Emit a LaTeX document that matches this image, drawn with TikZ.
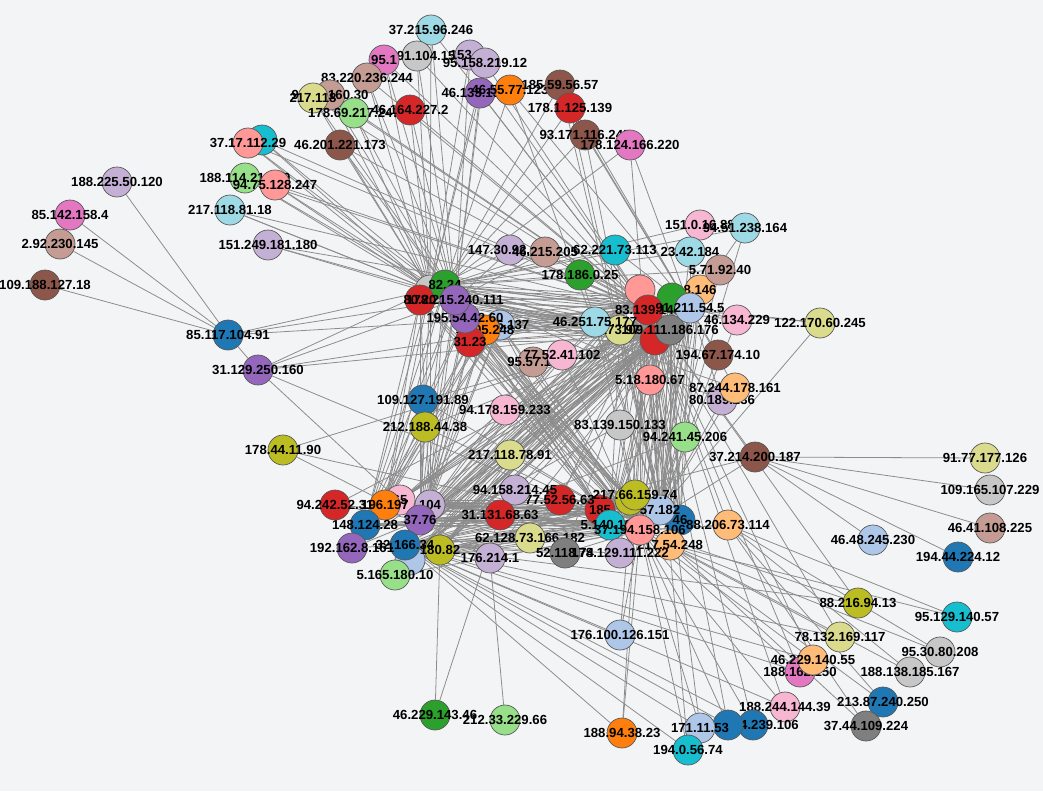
\documentclass[tikz,border=0pt]{standalone}
\usepackage{fontspec}
\setmainfont{Liberation Sans}
\definecolor{bgc}{HTML}{F3F4F6}
\definecolor{c1}{HTML}{1F77B4}\definecolor{c2}{HTML}{AEC7E8}
\definecolor{c3}{HTML}{FF7F0E}\definecolor{c4}{HTML}{FFBB78}
\definecolor{c5}{HTML}{2CA02C}\definecolor{c6}{HTML}{98DF8A}
\definecolor{c7}{HTML}{D62728}\definecolor{c8}{HTML}{FF9896}
\definecolor{c9}{HTML}{9467BD}\definecolor{c10}{HTML}{C5B0D5}
\definecolor{c11}{HTML}{8C564B}\definecolor{c12}{HTML}{C49C94}
\definecolor{c13}{HTML}{E377C2}\definecolor{c14}{HTML}{F7B6D2}
\definecolor{c15}{HTML}{7F7F7F}\definecolor{c16}{HTML}{C7C7C7}
\definecolor{c17}{HTML}{BCBD22}\definecolor{c18}{HTML}{DBDB8D}
\definecolor{c19}{HTML}{17BECF}\definecolor{c20}{HTML}{9EDAE5}
\pgfdeclarelayer{bg}\pgfsetlayers{bg,main}
\tikzset{nd/.style={circle,draw=gray!70!black,line width=0.4pt,minimum size=0.6cm,inner sep=0pt},
lbl/.style={font=\bfseries\fontsize{7.5}{8}\selectfont,text=black,inner sep=0pt},
ed/.style={draw=gray!90,line width=0.45pt}}
\newcommand\N[5]{\node[nd,fill=#4,label={[lbl]center:#5}] (#1) at (#2,#3) {};}
\begin{document}
\begin{tikzpicture}[x=0.02cm,y=-0.02cm]
\begin{pgfonlayer}{bg}
\fill[bgc] (0,0) rectangle (1043,791);
\end{pgfonlayer}
\useasboundingbox (0,0) rectangle (1043,791);
% hub clusters
\N{A5}{430}{290}{c16}{}
\N{A6}{420}{300}{c7}{80.20}
\N{A2}{445}{285}{c5}{82.24}
\N{A7}{500}{325}{c2}{46.76.137}
\N{A3}{485}{330}{c3}{5.205.248}
\N{A4}{470}{342}{c7}{31.23}
\N{A8}{465}{318}{c9}{195.54.42.60}
\N{A1}{455}{300}{c9}{178.215.240.111}
\N{B7}{640}{290}{c8}{}
\N{B6}{700}{290}{c4}{8.146}
\N{B2}{672}{298}{c5}{}
\N{B5}{620}{330}{c18}{173.97}
\N{B8}{655}{340}{c7}{}
\N{B4}{670}{330}{c15}{109.111.186.176}
\N{B1}{648}{310}{c7}{83.139.146}
\N{B3}{690}{308}{c2}{91.211.54.5}
\N{C8}{410}{560}{c2}{}
\N{C6}{400}{500}{c14}{65}
\N{C3}{385}{505}{c3}{196.197}
\N{C4}{440}{550}{c17}{180.82}
\N{C7}{430}{505}{c10}{104}
\N{C1}{420}{520}{c9}{37.76}
\N{C5}{365}{525}{c1}{148.124.28}
\N{C2}{405}{545}{c1}{32.166.34}
\N{D8}{680}{520}{c1}{46}
\N{D6}{600}{510}{c7}{185}
\N{D3}{630}{500}{c17}{}
\N{D5}{660}{510}{c2}{57.182}
\N{D4}{670}{545}{c4}{217.54.248}
\N{D2}{610}{525}{c19}{5.140.106}
\N{D1}{640}{530}{c8}{37.194.158.106}
% peripheral
\N{p1}{431}{30}{c20}{37.215.96.246}
\N{p2}{417}{56}{c16}{84.91.104.15}
\N{p3}{470}{55}{c10}{153.86}
\N{p4}{485}{63}{c10}{95.158.219.12}
\N{p5}{384}{60}{c13}{95.1}
\N{p6}{367}{78}{c12}{83.220.236.244}
\N{p7}{330}{95}{c12}{95.53.160.30}
\N{p8}{313}{98}{c18}{217.118}
\N{p9}{354}{113}{c6}{178.69.217.247}
\N{p10}{410}{110}{c7}{46.164.227.2}
\N{p11}{480}{93}{c9}{46.133.136.4}
\N{p12}{510}{90}{c3}{46.55.77.123}
\N{p13}{560}{85}{c11}{185.59.56.57}
\N{p14}{570}{108}{c7}{178.1.125.139}
\N{p15}{585}{135}{c11}{93.171.116.245}
\N{p16}{630}{145}{c13}{178.124.166.220}
\N{p17}{340}{145}{c11}{46.201.221.173}
\N{p18}{262}{140}{c19}{}
\N{p19}{248}{143}{c8}{37.17.112.29}
\N{p20}{245}{178}{c6}{188.114.21.220}
\N{p21}{275}{185}{c8}{94.75.128.247}
\N{p22}{230}{210}{c20}{217.118.81.18}
\N{p23}{117}{182}{c10}{188.225.50.120}
\N{p24}{70}{215}{c13}{85.142.158.4}
\N{p25}{60}{244}{c12}{2.92.230.145}
\N{p26}{45}{285}{c11}{109.188.127.18}
\N{p27}{268}{245}{c10}{151.249.181.180}
\N{p28}{228}{335}{c1}{85.117.104.91}
\N{p29}{258}{370}{c9}{31.129.250.160}
\N{p30}{423}{400}{c1}{109.127.191.89}
\N{p31}{425}{427}{c17}{212.188.44.38}
\N{p32}{283}{450}{c17}{178.44.11.90}
\N{p33}{510}{250}{c10}{147.30.92.100}
\N{p34}{545}{252}{c12}{46.215.205}
\N{p35}{580}{275}{c5}{178.186.0.25}
\N{p36}{615}{250}{c19}{62.221.73.113}
\N{p37}{700}{225}{c14}{151.0.16.88}
\N{p38}{745}{228}{c20}{94.51.238.164}
\N{p39}{690}{252}{c20}{23.42.184}
\N{p40}{720}{270}{c12}{5.71.92.40}
\N{p41}{737}{320}{c14}{46.134.229}
\N{p42}{820}{323}{c18}{122.170.60.245}
\N{p43}{718}{355}{c11}{194.67.174.10}
\N{p44}{650}{380}{c8}{5.18.180.67}
\N{p45}{722}{400}{c10}{80.189.236}
\N{p46}{735}{388}{c4}{87.244.178.161}
\N{p47}{755}{457}{c11}{37.214.200.187}
\N{p48}{985}{458}{c18}{91.77.177.126}
\N{p49}{990}{490}{c16}{109.165.107.229}
\N{p50}{990}{528}{c12}{46.41.108.225}
\N{p51}{873}{540}{c2}{46.48.245.230}
\N{p52}{958}{557}{c1}{194.44.224.12}
\N{p53}{728}{525}{c4}{88.206.73.114}
\N{p54}{685}{437}{c6}{94.241.45.206}
\N{p55}{620}{425}{c16}{83.139.150.133}
\N{p56}{510}{455}{c18}{217.118.78.91}
\N{p57}{505}{410}{c14}{94.178.159.233}
\N{p58}{533}{362}{c12}{95.57.13}
\N{p59}{562}{355}{c14}{77.52.41.102}
\N{p60}{595}{322}{c20}{46.251.75.177}
\N{p61}{635}{495}{c17}{217.66.159.74}
\N{p62}{560}{500}{c7}{77.52.56.63}
\N{p63}{515}{490}{c10}{94.158.214.45}
\N{p64}{500}{515}{c7}{31.131.68.63}
\N{p65}{530}{538}{c18}{62.128.73.166.182}
\N{p66}{565}{553}{c15}{52.118.74}
\N{p67}{490}{558}{c10}{176.214.1}
\N{p68}{352}{548}{c9}{192.162.8.161}
\N{p69}{395}{575}{c6}{5.165.180.10}
\N{p70}{335}{505}{c7}{94.242.52.31}
\N{p71}{620}{553}{c10}{178.129.111.222}
\N{p72}{858}{603}{c17}{88.216.94.13}
\N{p73}{957}{617}{c19}{95.129.140.57}
\N{p74}{840}{637}{c18}{78.132.169.117}
\N{p75}{940}{652}{c16}{95.30.80.208}
\N{p76}{800}{672}{c13}{188.162.150}
\N{p77}{813}{660}{c4}{46.229.140.55}
\N{p78}{910}{672}{c16}{188.138.185.167}
\N{p79}{883}{702}{c1}{213.87.240.250}
\N{p80}{866}{726}{c15}{37.44.109.224}
\N{p81}{785}{707}{c14}{188.244.144.39}
\N{p82}{753}{725}{c1}{185.44.239.106}
\N{p83}{728}{725}{c1}{}
\N{p84}{700}{728}{c2}{171.11.53}
\N{p85}{688}{750}{c19}{194.0.56.74}
\N{p86}{620}{635}{c2}{176.100.126.151}
\N{p87}{622}{733}{c3}{188.94.38.23}
\N{p88}{435}{715}{c5}{46.229.143.46}
\N{p89}{505}{720}{c6}{212.33.229.66}
\begin{pgfonlayer}{bg}
\foreach \a in {A1,A2,A3,A4,A5,A6,A7,A8}{
 \foreach \b in {B1,B2,B4,B5,B8,C1,C3,C5,C7,D1,D3,D6}{\draw[ed] (\a)--(\b);}}
\foreach \a in {B1,B2,B3,B4,B5,B6,B7,B8}{
 \foreach \b in {C1,C2,C4,C6,C8,D1,D2,D4,D5,D8}{\draw[ed] (\a)--(\b);}}
\foreach \a in {C1,C2,C3,C4,C5,C6,C7,C8}{
 \foreach \b in {D1,D2,D3,D5,D6,D8}{\draw[ed] (\a)--(\b);}}
\foreach \p in {p1,p2,p3,p4,p5,p6,p7,p8,p9,p10,p11,p17,p18,p19,p20,p21,p22,p27,p28,p29,p33,p34}{
 \draw[ed] (\p)--(A1); \draw[ed] (\p)--(A5); \draw[ed] (\p)--(B1);}
\foreach \p in {p12,p13,p14,p15,p16,p35,p36,p37,p38,p39,p40,p41,p42,p43,p44,p45,p46}{
 \draw[ed] (\p)--(B3); \draw[ed] (\p)--(A2); \draw[ed] (\p)--(D5);}
\foreach \p in {p23,p24,p25,p26}{\draw[ed] (\p)--(p28);}
\draw[ed] (p28)--(p29);
\foreach \p in {p29,p30,p31,p32,p56,p57,p58,p59,p60,p63,p64,p65,p67,p68,p69,p70}{
 \draw[ed] (\p)--(C1); \draw[ed] (\p)--(B4); \draw[ed] (\p)--(D1);}
\foreach \p in {p47,p53,p54,p55,p61,p62,p66,p71,p72,p74,p76,p77,p81,p82,p83,p84,p85,p86,p87}{
 \draw[ed] (\p)--(D1); \draw[ed] (\p)--(C2); \draw[ed] (\p)--(B1);}
\foreach \p in {p48,p49,p50,p51,p52}{\draw[ed] (\p)--(p47);}
\foreach \p in {p73,p75,p78,p79,p80}{\draw[ed] (\p)--(p53); \draw[ed] (\p)--(D4);}
\draw[ed] (p88)--(C4); \draw[ed] (p89)--(p67); \draw[ed] (p88)--(p64);
\end{pgfonlayer}
\end{tikzpicture}
\end{document}
